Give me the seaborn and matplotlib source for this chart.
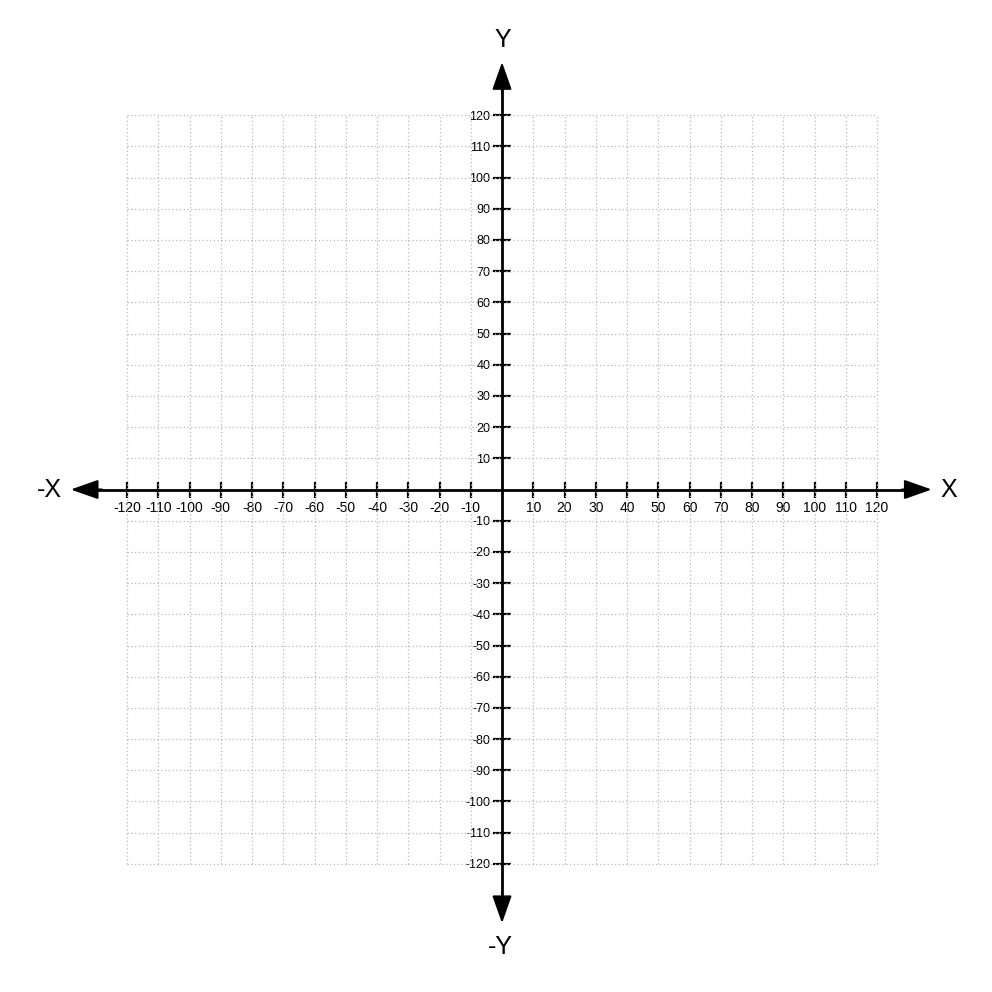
import numpy as np
import matplotlib
matplotlib.use("Agg")
import matplotlib.pyplot as plt
import seaborn as sns
import pandas as pd

sns.set_theme(style="white")
plt.rcParams['font.family'] = ['Liberation Sans', 'DejaVu Sans']

# data
x_ticks = [v for v in range(-120, 121, 10) if v != 0]
y_ticks = [v for v in range(-120, 121, 10) if v != 0]
grid_vals = list(range(-120, 121, 10))
x_tick_labels = [str(v) for v in x_ticks]
y_tick_labels = [str(v) for v in y_ticks]
axis_labels = {"X": "X", "-X": "-X", "Y": "Y", "-Y": "-Y"}

fig = plt.figure(figsize=(9.92, 9.92), dpi=100)
ax = fig.add_axes([0, 0, 1, 1])
ax.set_facecolor("white")
fig.patch.set_facecolor("white")

# limits so that origin sits at (502, 489.5) px and 10 units ~ 31.2 px
ax.set_xlim(-160.64, 156.8)
ax.set_ylim(-161.06, 156.9)

# grid
grid_df = pd.DataFrame({"v": grid_vals})
ax.vlines(grid_df["v"], -120, 120, colors="#b8b8b8", linestyles=(0, (1, 2)), lw=0.9, zorder=1)
ax.hlines(grid_df["v"], -120, 120, colors="#b8b8b8", linestyles=(0, (1, 2)), lw=0.9, zorder=1)

# spines at zero
for s in ["top", "right"]:
    ax.spines[s].set_visible(False)
ax.spines["left"].set_position("zero")
ax.spines["bottom"].set_position("zero")
ax.spines["bottom"].set_bounds(-130, 130)
ax.spines["left"].set_bounds(-131, 129)
for s in ["left", "bottom"]:
    ax.spines[s].set_linewidth(2.0)
    ax.spines[s].set_color("black")
    ax.spines[s].set_zorder(3)

ax.set_xticks(x_ticks)
ax.set_xticklabels(x_tick_labels)
ax.set_yticks(y_ticks)
ax.set_yticklabels(y_tick_labels)
ax.tick_params(axis="x", direction="inout", length=11.5, width=1.6, color="black",
               labelsize=10, pad=2.5, labelcolor="black", bottom=True)
ax.tick_params(axis="y", direction="inout", length=13.5, width=1.6, color="black",
               labelsize=9, pad=1.5, labelcolor="black", left=True)

# arrowheads
ap = dict(arrowstyle="-|>,head_length=0.85,head_width=0.3", lw=1.5, color="black",
          shrinkA=0, shrinkB=0, mutation_scale=20)
ax.annotate("", xy=(137.5, 0), xytext=(128, 0), arrowprops=ap, zorder=4)
ax.annotate("", xy=(-138, 0), xytext=(-128, 0), arrowprops=ap, zorder=4)
ax.annotate("", xy=(0, 137), xytext=(0, 127), arrowprops=ap, zorder=4)
ax.annotate("", xy=(0, -139), xytext=(0, -129), arrowprops=ap, zorder=4)

# axis labels
ax.text(143, 0, axis_labels["X"], fontsize=18, ha="center", va="center", color="black")
ax.text(-145, 0, axis_labels["-X"], fontsize=18, ha="center", va="center", color="black")
ax.text(0.3, 144, axis_labels["Y"], fontsize=18, ha="center", va="center", color="black")
ax.text(-0.5, -146.5, axis_labels["-Y"], fontsize=18, ha="center", va="center", color="black")

fig.savefig("out.png", dpi=100, facecolor="white")
